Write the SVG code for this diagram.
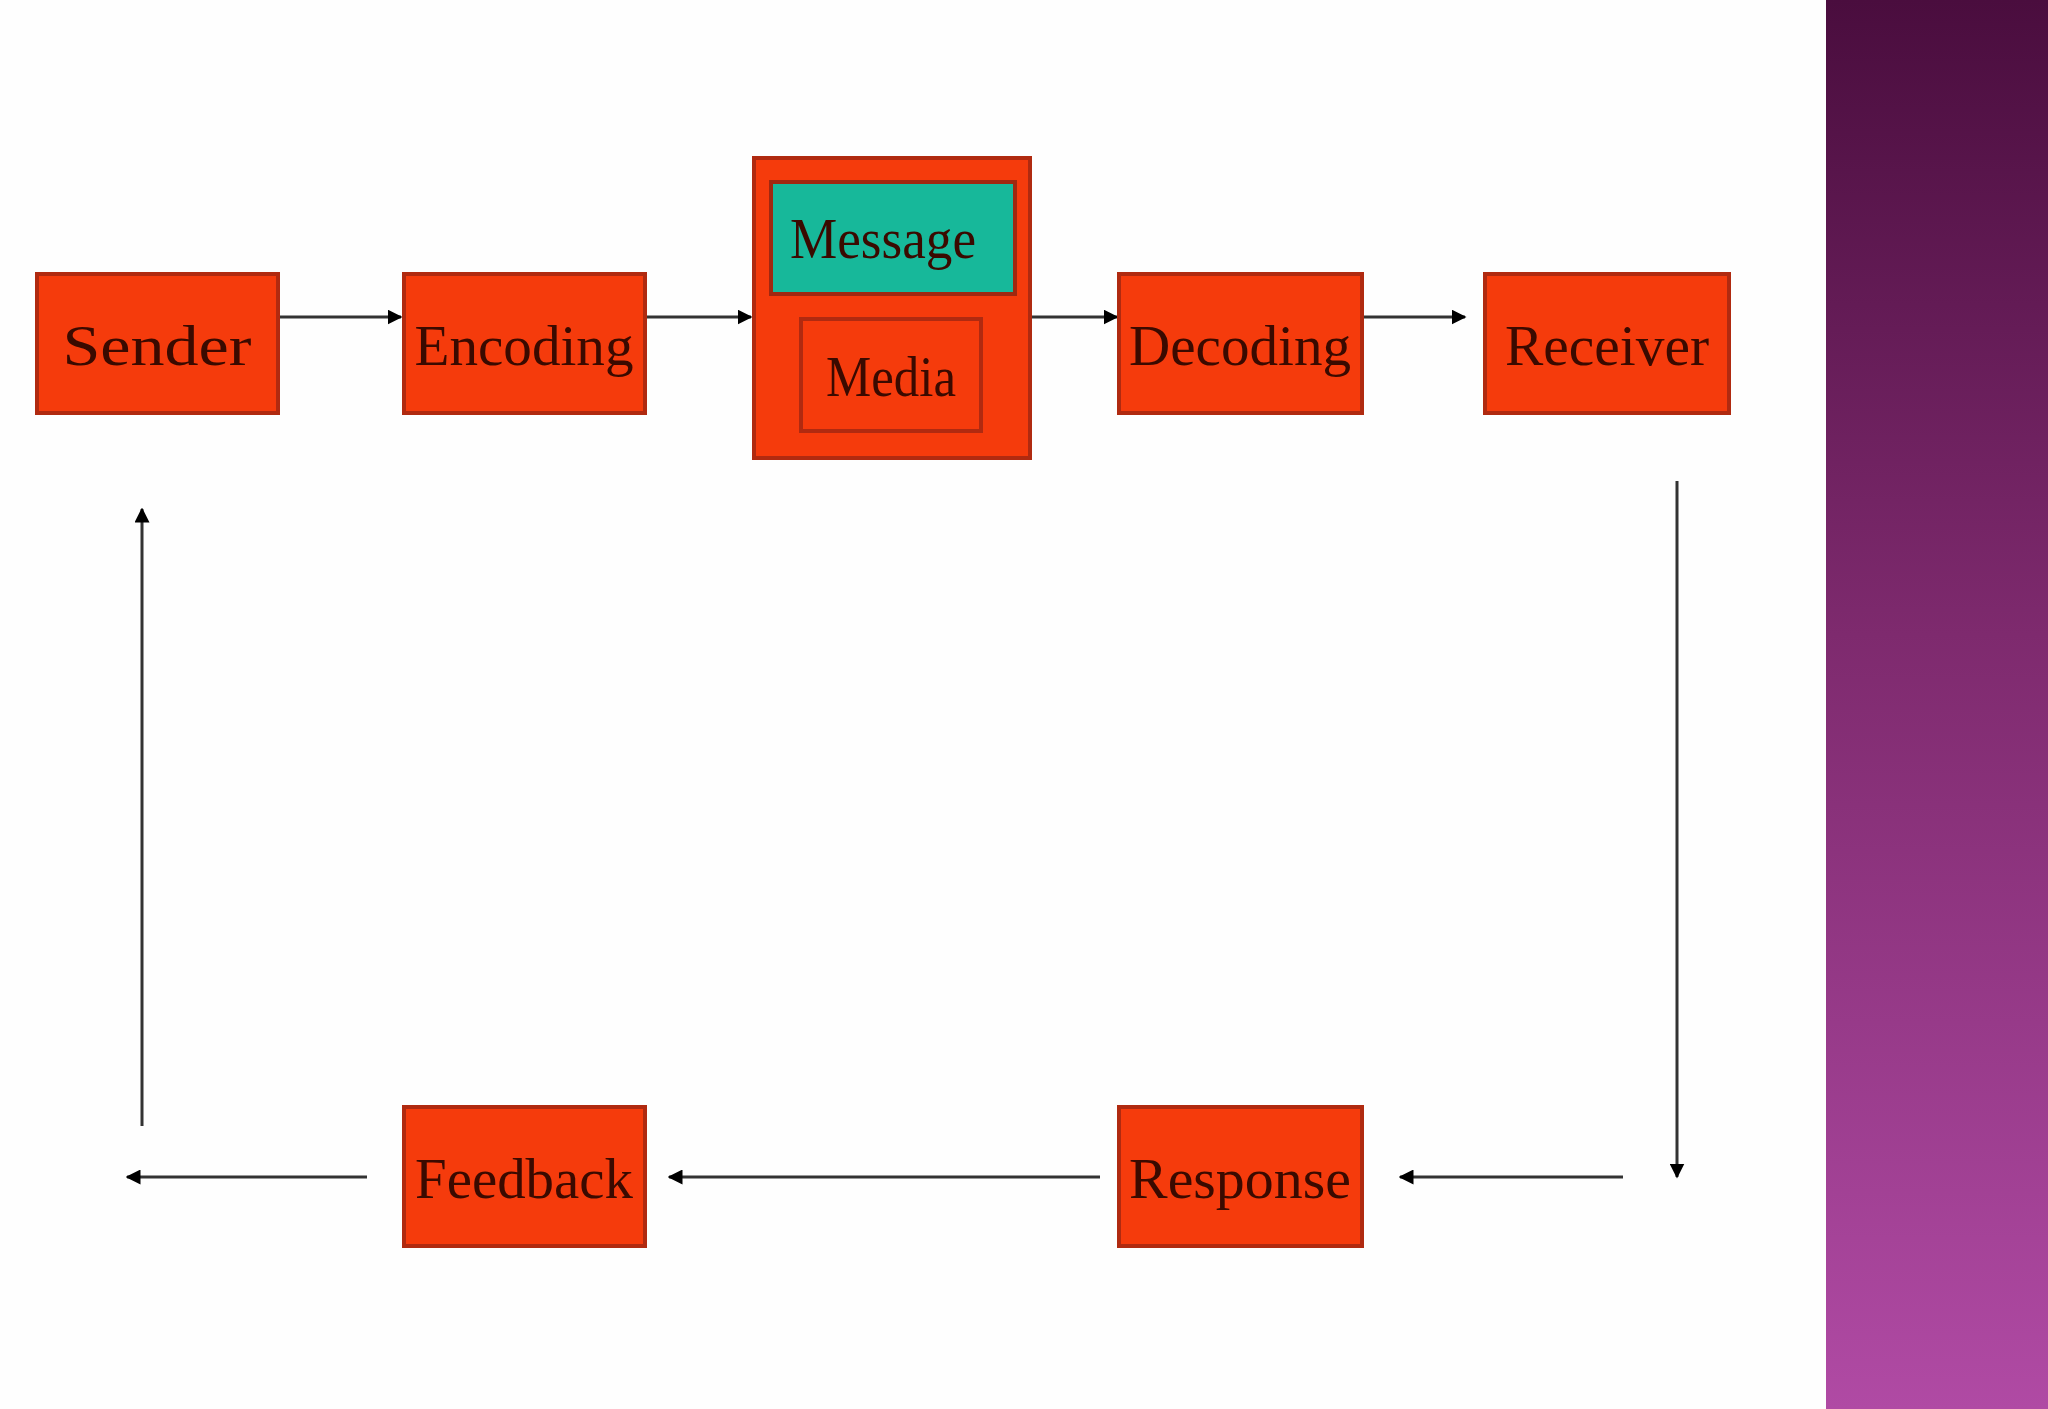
<svg xmlns="http://www.w3.org/2000/svg" width="2048" height="1409" viewBox="0 0 2048 1409">
<defs>
<linearGradient id="pg" x1="0" y1="0" x2="0" y2="1"><stop offset="0" stop-color="#4a0d3e"/><stop offset="0.45" stop-color="#7e2a6e"/><stop offset="1" stop-color="#b04aa4"/></linearGradient>
<marker id="ah" viewBox="0 0 10 10" refX="9" refY="5" markerWidth="5" markerHeight="5" orient="auto" markerUnits="strokeWidth"><path d="M0,0 L10,5 L0,10 z" fill="#000"/></marker>
</defs>
<style>
.box{fill:#f53b0c;stroke:#b02a10;stroke-width:4}
.t{font-family:"Liberation Serif",serif;font-size:58px;fill:#3a0a00;text-anchor:middle}
.c{stroke:#333;stroke-width:3;fill:none;marker-end:url(#ah)}
</style>
<rect width="2048" height="1409" fill="#fefefe"/>
<rect x="1826" y="0" width="222" height="1409" fill="url(#pg)"/>
<g id="connectors">
<line class="c" x1="278" y1="317" x2="401" y2="317"/>
<line class="c" x1="645" y1="317" x2="751" y2="317"/>
<line class="c" x1="1000" y1="317" x2="1117" y2="317"/>
<line class="c" x1="1362" y1="317" x2="1465" y2="317"/>
<line class="c" x1="1677" y1="481" x2="1677" y2="1177"/>
<line class="c" x1="1623" y1="1177" x2="1400" y2="1177"/>
<line class="c" x1="1100" y1="1177" x2="669" y2="1177"/>
<line class="c" x1="367" y1="1177" x2="127" y2="1177"/>
<line class="c" x1="142" y1="1126" x2="142" y2="509"/>
</g>
<g id="sender"><rect class="box" x="37" y="274" width="241" height="139"/><text class="t" x="157" y="365" textLength="189" lengthAdjust="spacingAndGlyphs">Sender</text></g>
<g id="encoding"><rect class="box" x="404" y="274" width="241" height="139"/><text class="t" x="524" y="365" textLength="219" lengthAdjust="spacingAndGlyphs">Encoding</text></g>
<g id="message-media"><rect class="box" x="754" y="158" width="276" height="300"/>
<rect x="771" y="182" width="244" height="112" fill="#17b89a" stroke="#a02810" stroke-width="4"/>
<text class="t" x="883" y="258" textLength="186" lengthAdjust="spacingAndGlyphs">Message</text>
<rect class="box" x="801" y="319" width="180" height="112"/>
<text class="t" x="891" y="396" textLength="130" lengthAdjust="spacingAndGlyphs">Media</text></g>
<g id="decoding"><rect class="box" x="1119" y="274" width="243" height="139"/><text class="t" x="1240" y="365" textLength="222" lengthAdjust="spacingAndGlyphs">Decoding</text></g>
<g id="receiver"><rect class="box" x="1485" y="274" width="244" height="139"/><text class="t" x="1607" y="365" textLength="204" lengthAdjust="spacingAndGlyphs">Receiver</text></g>
<g id="feedback"><rect class="box" x="404" y="1107" width="241" height="139"/><text class="t" x="524" y="1198" textLength="218" lengthAdjust="spacingAndGlyphs">Feedback</text></g>
<g id="response"><rect class="box" x="1119" y="1107" width="243" height="139"/><text class="t" x="1240" y="1198" textLength="222" lengthAdjust="spacingAndGlyphs">Response</text></g>
</svg>
